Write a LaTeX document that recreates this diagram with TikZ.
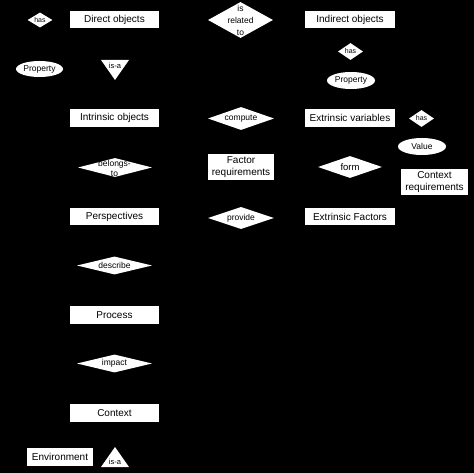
\documentclass[tikz,border=0pt]{standalone}
\usepackage{fontspec}
\setmainfont{Liberation Sans}
\usetikzlibrary{shapes.geometric}
\begin{document}
\begin{tikzpicture}[x=1pt,y=-1pt,
  box/.style={draw=none,fill=white,inner sep=0pt,font=\fontsize{10}{12}\selectfont,align=center},
  dia/.style={diamond,fill=white,inner sep=0pt},
  ell/.style={ellipse,fill=white,inner sep=0pt,font=\fontsize{8.5}{10}\selectfont},
  lbl/.style={inner sep=0pt,align=center,text=black}]
\useasboundingbox (0,0) rectangle (474,473);
\fill[black] (0,0) rectangle (474,473);
% left column boxes
\node[box,minimum width=89pt,minimum height=17pt] (direct) at (114.5,20) {Direct objects};
\node[box,minimum width=89pt,minimum height=18pt] (intr) at (114.5,118) {Intrinsic objects};
\node[box,minimum width=89pt,minimum height=17pt] (persp) at (114.5,216.5) {Perspectives};
\node[box,minimum width=89pt,minimum height=18pt] (proc) at (114.5,315) {Process};
\node[box,minimum width=89pt,minimum height=18pt] (ctx) at (114.5,413) {Context};
\node[box,minimum width=66pt,minimum height=18pt] (env) at (60,457) {Environment};
% right column boxes
\node[box,minimum width=90pt,minimum height=17pt] (indir) at (350,20) {Indirect objects};
\node[box,minimum width=90pt,minimum height=18pt] (extvar) at (350,118) {Extrinsic variables};
\node[box,minimum width=90pt,minimum height=17pt] (extfac) at (350,216.5) {Extrinsic Factors};
\node[box,minimum width=66pt,minimum height=26pt] (facreq) at (241,167) {Factor\\requirements};
\node[box,minimum width=67pt,minimum height=26pt] (ctxreq) at (434.5,182) {Context\\requirements};
% ellipses
\node[ell,minimum width=47pt,minimum height=16pt] (prop1) at (39.5,69) {Property};
\node[ell,minimum width=48pt,minimum height=17pt] (prop2) at (351,80.5) {Property};
\node[ell,minimum width=48pt,minimum height=17pt] (val) at (422,146.5) {Value};
% diamonds
\node[dia,minimum width=25pt,minimum height=15pt] (has1) at (40,20) {};
\node[lbl,font=\fontsize{7}{8}\selectfont] (has1t) at (has1.center) {has};
\node[dia,minimum width=65pt,minimum height=36pt] (rel) at (240.5,20) {};
\node[lbl,font=\fontsize{8.5}{12}\selectfont] (relt) at (240.5,20) {is\\related\\to};
\node[dia,minimum width=25pt,minimum height=17pt] (has2) at (350.5,51.5) {};
\node[lbl,font=\fontsize{7}{8}\selectfont] (has2t) at (has2.center) {has};
\node[dia,minimum width=66pt,minimum height=23pt] (comp) at (241,118.5) {};
\node[lbl,font=\fontsize{8.5}{10}\selectfont] (compt) at (comp.center) {compute};
\node[dia,minimum width=25pt,minimum height=17pt] (has3) at (421.5,118.5) {};
\node[lbl,font=\fontsize{7}{8}\selectfont] (has3t) at (has3.center) {has};
\node[dia,minimum width=74pt,minimum height=19pt] (bel) at (115,167.5) {};
\node[lbl,font=\fontsize{8.5}{9.5}\selectfont] (belt) at (114.5,168.5) {belongs-\\to};
\node[dia,minimum width=64pt,minimum height=22pt] (form) at (350,167) {};
\node[lbl,font=\fontsize{9.5}{11}\selectfont] (formt) at (form.center) {form};
\node[dia,minimum width=66pt,minimum height=22pt] (prov) at (241,218) {};
\node[lbl,font=\fontsize{8.5}{10}\selectfont] (provt) at (prov.center) {provide};
\node[dia,minimum width=75pt,minimum height=18pt] (desc) at (114.5,265.5) {};
\node[lbl,font=\fontsize{8.5}{10}\selectfont] (desct) at (desc.center) {describe};
\node[dia,minimum width=75pt,minimum height=18pt] (imp) at (114.5,363.5) {};
\node[lbl,font=\fontsize{8.5}{10}\selectfont] (impt) at (imp.center) {impact};
% triangles
\coordinate (isa1a) at (101,60);
\coordinate (isa1b) at (129,60);
\coordinate (isa1c) at (115,80);
\fill[white] (isa1a) -- (isa1b) -- (isa1c) -- cycle;
\node[lbl,font=\fontsize{7.5}{9}\selectfont] (isa1t) at (115,66) {is-a};
\coordinate (isa2a) at (101,467);
\coordinate (isa2b) at (129,467);
\coordinate (isa2c) at (115,447);
\fill[white] (isa2a) -- (isa2b) -- (isa2c) -- cycle;
\node[lbl,font=\fontsize{7.5}{9}\selectfont] (isa2t) at (115,461.5) {is-a};
\end{tikzpicture}
\end{document}
